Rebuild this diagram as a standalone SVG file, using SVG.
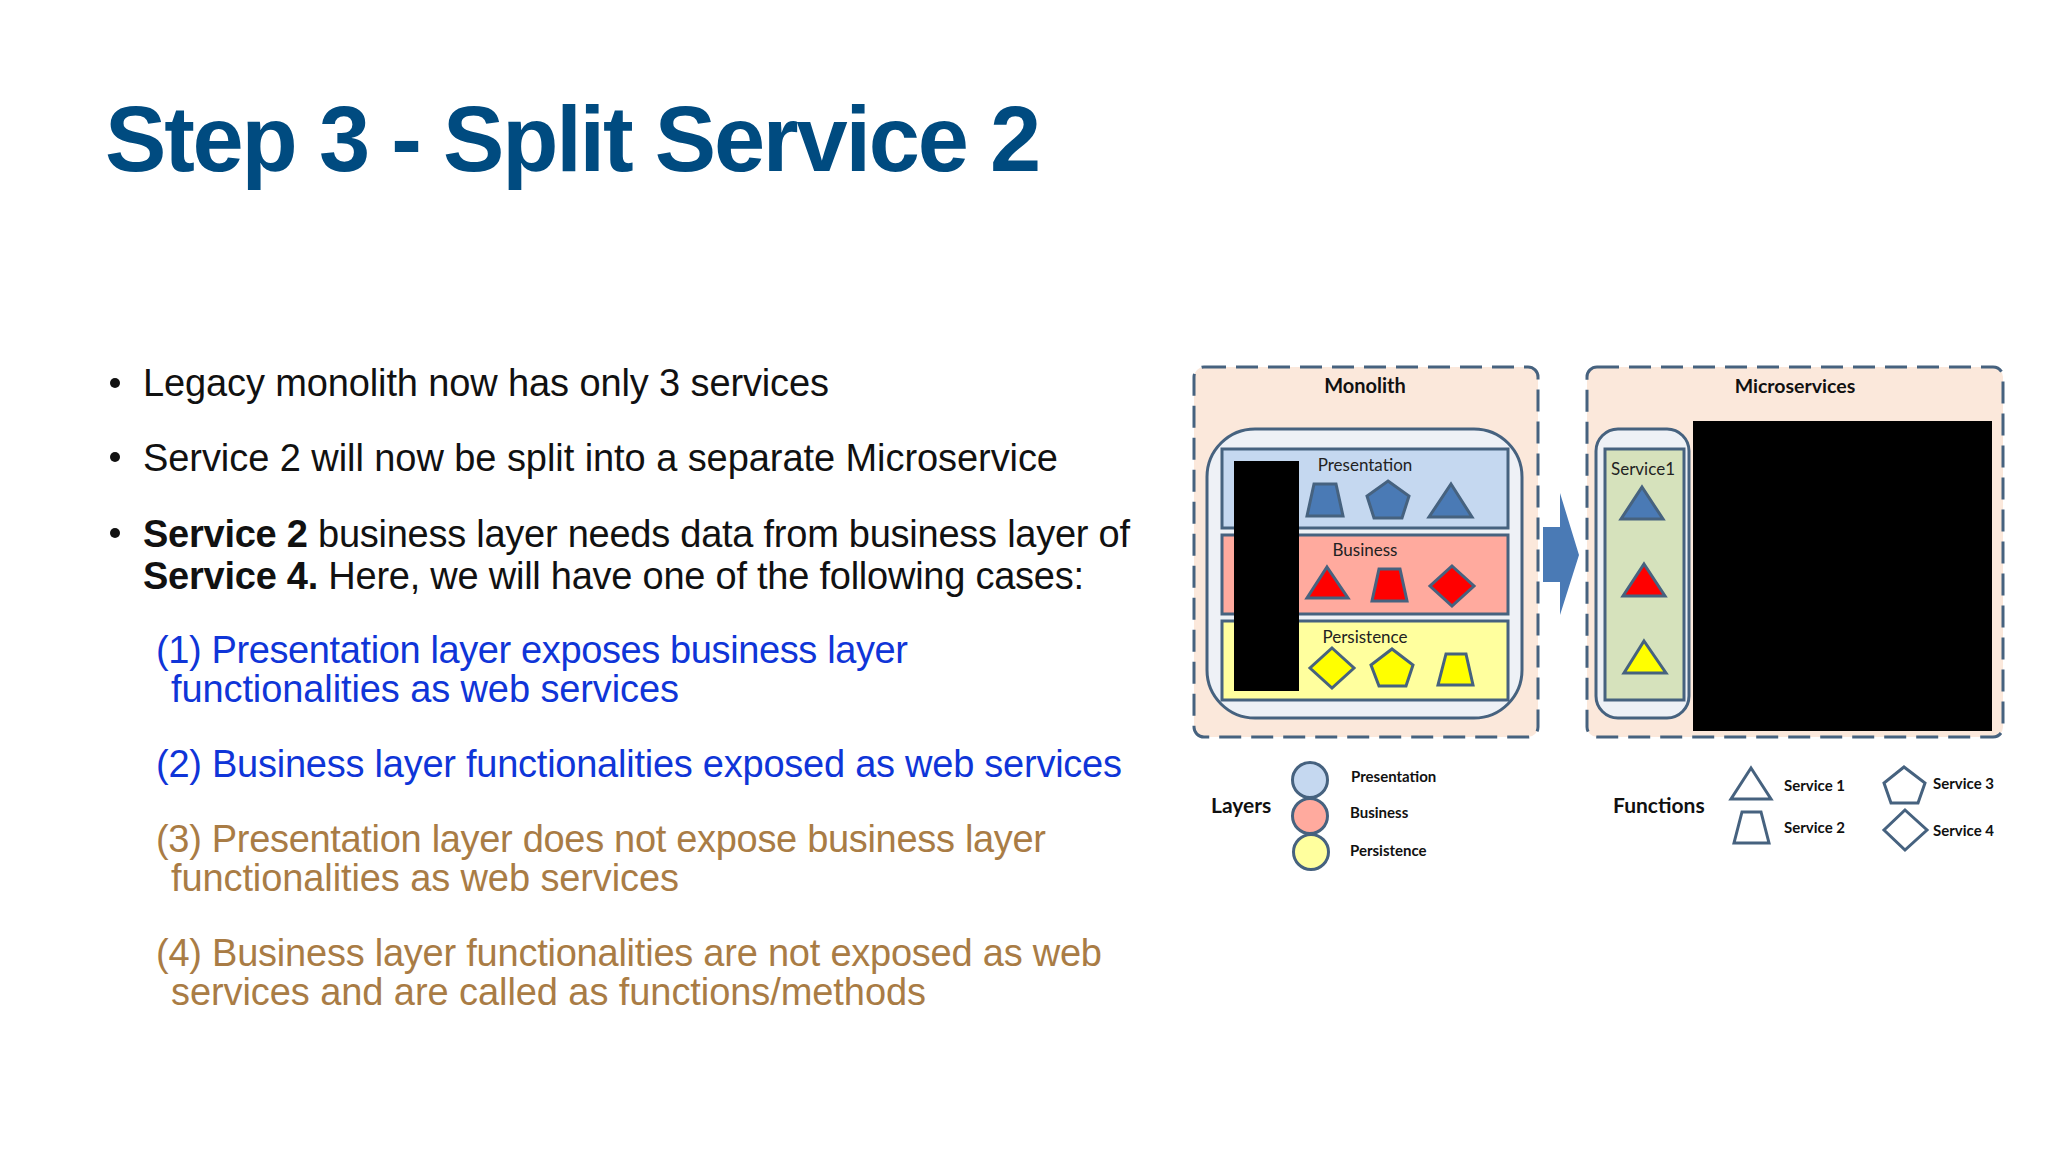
<svg xmlns="http://www.w3.org/2000/svg" width="2048" height="1152" viewBox="0 0 2048 1152">
<style>
.t{font-family:"Liberation Sans",Arial,sans-serif;font-size:38px}
.k{fill:#111}.b{fill:#0f35d8}.o{fill:#a97c45}
.d{font-family:Lato,"Open Sans",sans-serif}
.l{stroke:#46627f;stroke-width:3;stroke-linejoin:miter}
.box{fill:#fbe8db;stroke:#46627f;stroke-width:3;stroke-dasharray:22 10}
.in{fill:#eef1f6;stroke:#46627f;stroke-width:3}
.lab{font-size:17px;fill:#222;text-anchor:middle}
.leg{font-size:15px;font-weight:700;fill:#111}
.h{font-size:19.5px;font-weight:700;fill:#111}
.f{font-size:21px;font-weight:700;fill:#111}
.hb{fill:#4a7ab5}.hr{fill:#ff0000}.hy{fill:#ffff00}.no{fill:none}
</style>
<rect width="2048" height="1152" fill="#fff"/>
<text x="105" y="171" font-family="Liberation Sans,Arial,sans-serif" font-size="92" font-weight="700" fill="#004b80" letter-spacing="-2.2">Step 3 - Split Service 2</text>
<g id="bullets">
<circle cx="115" cy="383" r="5" fill="#111"/><circle cx="115" cy="457" r="5" fill="#111"/><circle cx="115" cy="533" r="5" fill="#111"/>
<text class="t k" x="143" y="396" textLength="686">Legacy monolith now has only 3 services</text>
<text class="t k" x="143" y="471" textLength="915">Service 2 will now be split into a separate Microservice</text>
<text class="t k" x="143" y="547" textLength="987"><tspan font-weight="700">Service 2</tspan> business layer needs data from business layer of</text>
<text class="t k" x="143" y="589" textLength="941"><tspan font-weight="700">Service 4.</tspan> Here, we will have one of the following cases:</text>
<text class="t b" x="156" y="663" textLength="752">(1) Presentation layer exposes business layer</text>
<text class="t b" x="171" y="702" textLength="508">functionalities as web services</text>
<text class="t b" x="156" y="777" textLength="966">(2) Business layer functionalities exposed as web services</text>
<text class="t o" x="156" y="852" textLength="890">(3) Presentation layer does not expose business layer</text>
<text class="t o" x="171" y="891" textLength="508">functionalities as web services</text>
<text class="t o" x="156" y="966" textLength="946">(4) Business layer functionalities are not exposed as web</text>
<text class="t o" x="171" y="1005" textLength="755">services and are called as functions/methods</text>
</g>
<g id="monolith" class="d">
<rect class="box" x="1194" y="367" width="344" height="370" rx="10"/>
<text class="h" x="1365" y="393" text-anchor="middle" style="font-size:20px">Monolith</text>
<rect class="in" x="1207" y="429" width="315" height="289" rx="48"/>
<rect class="l" x="1222" y="449" width="286" height="79" fill="#c5d8f0"/>
<rect class="l" x="1222" y="535" width="286" height="79" fill="#ffaa9e"/>
<rect class="l" x="1222" y="621" width="286" height="79" fill="#ffff9e"/>
<text class="lab" x="1365" y="471">Presentation</text>
<text class="lab" x="1365" y="556">Business</text>
<text class="lab" x="1365" y="643">Persistence</text>
<polygon class="l hb" points="1314,484 1336,484 1343,516 1307,516"/>
<polygon class="l hb" points="1388,481 1409,496 1402,518 1374,518 1367,496"/>
<polygon class="l hb" points="1451,484 1472,517 1429,517"/>
<polygon class="l hr" points="1327,567 1348,598 1307,598"/>
<polygon class="l hr" points="1379,569 1400,569 1407,601 1372,601"/>
<polygon class="l hr" points="1452,566 1474,586 1452,606 1430,586"/>
<polygon class="l hy" points="1332,648 1354,668 1332,688 1310,668"/>
<polygon class="l hy" points="1392,649 1413,665 1406,686 1379,686 1371,665"/>
<polygon class="l hy" points="1446,654 1466,654 1473,685 1438,685"/>
<rect x="1234" y="461" width="65" height="230" fill="#000"/>
</g>
<g id="connectors">
<polygon points="1543,527 1560,527 1560,493 1579,555 1560,615 1560,582 1543,582" fill="#4a7ab5"/>
</g>
<g id="microservices" class="d">
<rect class="box" x="1587" y="367" width="416" height="370" rx="10"/>
<text class="h" x="1795" y="393" text-anchor="middle">Microservices</text>
<rect class="in" x="1596" y="429" width="93" height="289" rx="22"/>
<rect class="l" x="1605" y="449" width="79" height="251" fill="#d6e2bc"/>
<text class="lab" x="1643" y="475">Service1</text>
<polygon class="l hb" points="1642,487 1663,519 1621,519"/>
<polygon class="l hr" points="1644,564 1665,596 1623,596"/>
<polygon class="l hy" points="1644,641 1666,673 1624,673"/>
<rect x="1693" y="421" width="299" height="310" fill="#000"/>
</g>
<g id="legend-layers" class="d">
<text class="f" x="1211" y="813">Layers</text>
<circle class="l" cx="1310" cy="780" r="17.5" fill="#c5d8f0"/>
<circle class="l" cx="1310" cy="816" r="17.5" fill="#ffaa9e"/>
<circle class="l" cx="1311" cy="852" r="17.5" fill="#ffff9e"/>
<text class="leg" x="1351" y="782">Presentation</text>
<text class="leg" x="1350" y="818">Business</text>
<text class="leg" x="1350" y="856">Persistence</text>
</g>
<g id="legend-functions" class="d">
<text class="f" x="1613" y="813">Functions</text>
<polygon class="l no" points="1751,768 1771,799 1731,799"/>
<polygon class="l no" points="1742,812 1761,812 1769,843 1734,843"/>
<polygon class="l no" points="1904,767 1925,783 1918,803 1891,803 1884,783"/>
<polygon class="l no" points="1905,810 1927,830 1905,850 1884,830"/>
<text class="leg" x="1784" y="791">Service 1</text>
<text class="leg" x="1784" y="833">Service 2</text>
<text class="leg" x="1933" y="789">Service 3</text>
<text class="leg" x="1933" y="836">Service 4</text>
</g>
</svg>
